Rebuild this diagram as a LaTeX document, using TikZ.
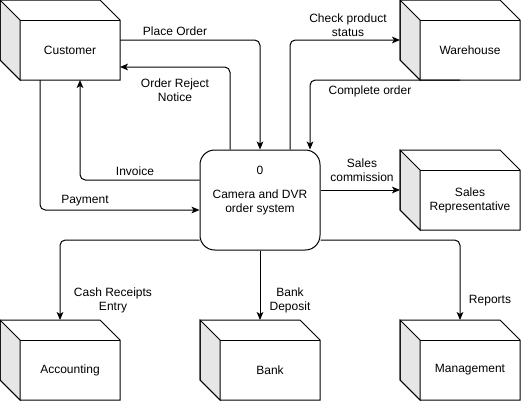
\documentclass[tikz,border=0pt]{standalone}
\usepackage{fontspec}
\setmainfont{Liberation Sans}
\usetikzlibrary{arrows.meta}
\definecolor{sidegray}{RGB}{230,230,230}

\begin{document}
\begin{tikzpicture}[x=0.75pt, y=-0.75pt, line width=0.75pt,
	every node/.style={font=\fontsize{9}{10.5}\selectfont, align=center},
	cubebox/.style={minimum width=90pt, minimum height=60pt, inner sep=0pt, outer sep=0pt,
		label={[shift={(10,10)}]center:{#1}}},
	procbox/.style={draw, rounded corners=11pt, minimum width=90pt, minimum height=75pt, inner sep=0pt},
	flow/.style={-{Stealth[length=6pt,width=5pt,inset=1.5pt]}, rounded corners=4pt}]
		\useasboundingbox (0,0) rectangle (521,401);

		% external entities
		\node[cubebox={Customer}] (cust) at (60,40) {};
		\node[cubebox={Warehouse}] (ware) at (460,40) {};
		\node[cubebox={Sales\\Representative}] (sales) at (460,190) {};
		\node[cubebox={Accounting}] (acct) at (60,360) {};
		\node[cubebox={Bank}] (bank) at (260,360) {};
		\node[cubebox={Management}] (mgmt) at (460,360) {};
		\foreach \n in {cust,ware,sales,acct,bank,mgmt} {
			\draw[fill=sidegray] (\n.north west) -- ++(20,20) -- ++(0,60) -- ++(-20,-20) -- cycle;
			\draw (\n.north west) -- ++(100,0) -- ++(20,20) -- ++(0,60) -- ++(-100,0) -- ++(-20,-20) -- cycle;
			\draw ([shift={(20,20)}]\n.north west) -- ++(100,0);
		}

		% process
		\node[procbox, label={[shift={(0,-9.5)}]center:{0\\[8pt]Camera and DVR\\order system}}] (proc) at (260,200) {};

		% data flows
		\draw[flow] (cust.east) -| (proc.north);
		\draw[flow] ([shift={(-30,0)}]proc.north) |- ([shift={(0,27)}]cust.east);
		\draw[flow] ([shift={(0,-20)}]proc.west) -| ([shift={(20,0)}]cust.south);
		\draw[flow] ([shift={(-20,0)}]cust.south) |- ([shift={(0,10)}]proc.west);
		\draw[flow] ([shift={(30,0)}]proc.north) |- (ware.west);
		\draw[flow] (ware.south) -| ([shift={(50,0)}]proc.north);
		\draw[flow] (proc.east |- sales.west) -- (sales.west);
		\draw[flow] ([shift={(0,40)}]proc.west) -| (acct.north);
		\draw[flow] (proc.south) -- (bank.north);
		\draw[flow] ([shift={(0,40)}]proc.east) -| (mgmt.north);

		\node (lplace) at (175,31) {Place Order};
		\node (lreject) at (175,90) {Order Reject\\Notice};
		\node (linvoice) at (135,171) {Invoice};
		\node (lpay) at (85,201) {Payment};
		\node (lcheck) at (348,25) {Check product\\status};
		\node (lcomplete) at (370,91) {Complete order};
		\node (lsales) at (362,170) {Sales\\commission};
		\node (lcash) at (113,300) {Cash Receipts\\Entry};
		\node (lbank) at (290,300) {Bank\\Deposit};
		\node (lreports) at (490,301) {Reports};
\end{tikzpicture}
\end{document}
